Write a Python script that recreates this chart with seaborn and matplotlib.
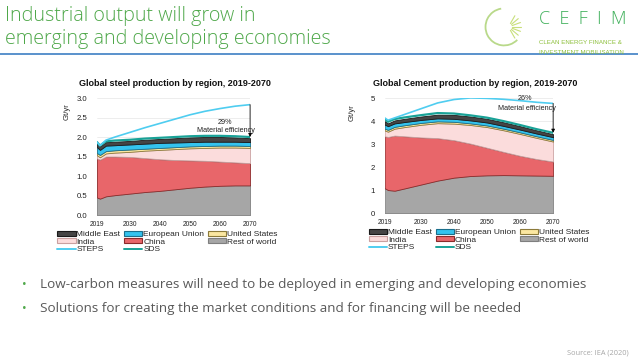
import numpy as np
import pandas as pd
import matplotlib
matplotlib.use("Agg")
import matplotlib.pyplot as plt
import seaborn as sns
from matplotlib.patches import Patch, Arc
from matplotlib.lines import Line2D

# ----------------------------
# DATA (Gt/yr, SDS by region + scenario totals)
# ----------------------------
years = [2019, 2020, 2022, 2025, 2030, 2035, 2040, 2045, 2050, 2055, 2060, 2065, 2070]

steel_rest = [0.45, 0.42, 0.48, 0.51, 0.55, 0.59, 0.62, 0.66, 0.70, 0.73, 0.75, 0.76, 0.76]
steel_china = [1.00, 1.00, 1.02, 0.99, 0.94, 0.87, 0.81, 0.75, 0.70, 0.66, 0.62, 0.59, 0.57]
steel_india = [0.08, 0.06, 0.08, 0.10, 0.13, 0.19, 0.24, 0.28, 0.31, 0.33, 0.36, 0.38, 0.39]
steel_us = [0.06, 0.06, 0.06, 0.06, 0.06, 0.05, 0.05, 0.05, 0.05, 0.05, 0.05, 0.05, 0.05]
steel_eu = [0.15, 0.13, 0.14, 0.13, 0.13, 0.13, 0.13, 0.12, 0.11, 0.11, 0.10, 0.10, 0.10]
steel_me = [0.11, 0.09, 0.09, 0.09, 0.09, 0.10, 0.10, 0.11, 0.12, 0.12, 0.12, 0.11, 0.10]
steel_sds = [1.87, 1.78, 1.89, 1.91, 1.93, 1.96, 1.98, 2.00, 2.02, 2.03, 2.03, 2.02, 2.00]
steel_steps = [1.87, 1.78, 1.92, 2.00, 2.12, 2.24, 2.35, 2.46, 2.57, 2.66, 2.73, 2.79, 2.83]

cement_rest = [1.09, 1.01, 0.98, 1.08, 1.25, 1.42, 1.55, 1.62, 1.65, 1.66, 1.65, 1.64, 1.63]
cement_china = [2.26, 2.31, 2.40, 2.27, 2.05, 1.85, 1.63, 1.41, 1.20, 1.01, 0.85, 0.72, 0.62]
cement_india = [0.25, 0.23, 0.30, 0.40, 0.55, 0.65, 0.72, 0.81, 0.90, 0.94, 0.95, 0.92, 0.87]
cement_us = [0.08, 0.08, 0.08, 0.08, 0.08, 0.08, 0.08, 0.07, 0.07, 0.07, 0.07, 0.07, 0.07]
cement_eu = [0.18, 0.16, 0.15, 0.14, 0.13, 0.13, 0.13, 0.13, 0.13, 0.12, 0.12, 0.12, 0.12]
cement_me = [0.15, 0.12, 0.13, 0.14, 0.15, 0.16, 0.17, 0.17, 0.16, 0.16, 0.15, 0.14, 0.13]
cement_sds = [4.10, 3.98, 4.10, 4.17, 4.27, 4.36, 4.34, 4.26, 4.16, 4.01, 3.84, 3.66, 3.50]
cement_steps = [4.15, 4.05, 4.15, 4.30, 4.55, 4.80, 4.95, 5.02, 5.00, 4.96, 4.90, 4.83, 4.78]

x_ticks = [2019, 2030, 2040, 2050, 2060, 2070]
regions = ["Rest of world", "China", "India", "United States", "European Union", "Middle East"]

# --------------------------
# STYLE
# --------------------------
sns.set_theme(style="white")
plt.rcParams["font.family"] = ["Liberation Sans", "DejaVu Sans"]

fills = {
    "Rest of world": ("#a6a6a6", "#7f7f7f"),
    "China": ("#e8666a", "#8b2a2a"),
    "India": ("#fbdcdc", "#c9a0a0"),
    "United States": ("#fbe7a1", "#8c7a3a"),
    "European Union": ("#34c3ee", "#1b6f8c"),
    "Middle East": ("#454545", "#1a1a1a"),
}
steps_col = "#4fcdf0"
sds_col = "#19a297"
green = "#4fa84a"
grey_txt = "#595959"

fig = plt.figure(figsize=(6.38, 3.59), dpi=100)
fig.patch.set_facecolor("white")


def draw_panel(rect, title, stacks, sds, steps, ymax, yticks, yfmt, pct, txt_y,
               leg_x, title_x):
    ax = fig.add_axes(rect)
    colors = [fills[r][0] for r in regions]
    polys = ax.stackplot(years, *stacks, colors=colors, lw=0.6)
    for p, r in zip(polys, regions):
        p.set_edgecolor(fills[r][1])
    df = pd.DataFrame({"year": years, "SDS": sds, "STEPS": steps})
    sns.lineplot(data=df, x="year", y="SDS", ax=ax, color=sds_col, lw=1.6)
    sns.lineplot(data=df, x="year", y="STEPS", ax=ax, color=steps_col, lw=1.2)
    ax.annotate("", xy=(2070, sds[-1]), xytext=(2070, steps[-1]),
                arrowprops=dict(arrowstyle="-|>", color="black", lw=0.6,
                                mutation_scale=5, shrinkA=0, shrinkB=0))
    ax.text(2061.5, txt_y, pct, ha="center", va="center", fontsize=5.2, color="#222222")
    ax.text(2062, txt_y - (yticks[1] - yticks[0]) * 0.45, "Material efficiency",
            ha="center", va="center", fontsize=5.2, color="#222222")
    ax.set_xlim(2019, 2070)
    ax.set_ylim(0, ymax)
    ax.set_xticks(x_ticks)
    ax.set_yticks(yticks)
    ax.set_yticklabels([yfmt.format(v) for v in yticks])
    ax.tick_params(axis="x", labelsize=4.8, length=0, pad=4, colors="#222222")
    ax.tick_params(axis="y", labelsize=5.6, length=0, pad=7, colors="#222222")
    ax.yaxis.grid(True, color="#e6e6e6", lw=0.5)
    ax.set_axisbelow(True)
    for s in ["top", "right", "left"]:
        ax.spines[s].set_visible(False)
    ax.spines["bottom"].set_color("#8c8c8c")
    ax.spines["bottom"].set_linewidth(0.6)
    ax.set_xlabel("")
    ax.set_ylabel("Gt/yr", fontsize=5.5, color="#222222")
    ax.yaxis.set_label_coords(-0.17, 0.88)
    ax.set_title(title, fontsize=6.5, fontweight="bold", pad=9, color="#111111", x=title_x)

    h = {r: Patch(facecolor=fills[r][0], edgecolor=fills[r][1], lw=0.8) for r in regions}
    h["STEPS"] = Line2D([], [], color=steps_col, lw=1.4)
    h["SDS"] = Line2D([], [], color=sds_col, lw=1.4)
    order = ["Middle East", "India", "STEPS", "European Union", "China", "SDS",
             "United States", "Rest of world"]
    ax.legend([h[k] for k in order], order, ncol=3, loc="upper center",
              bbox_to_anchor=(leg_x, -0.1), frameon=False, fontsize=6.0,
              handlelength=2.2, handleheight=0.55, handletextpad=0.1,
              columnspacing=0.45, labelspacing=0.0, borderpad=0)
    return ax


steel_stack = [steel_rest, steel_china, steel_india, steel_us, steel_eu, steel_me]
cement_stack = [cement_rest, cement_china, cement_india, cement_us, cement_eu, cement_me]

draw_panel([0.152, 0.401, 0.240, 0.326], "Global steel production by region, 2019-2070",
           steel_stack, steel_sds, steel_steps, 3.0, [0.0, 0.5, 1.0, 1.5, 2.0, 2.5, 3.0],
           "{:.1f}", "29%", 2.38, 0.46, 0.51)
draw_panel([0.603, 0.406, 0.264, 0.320], "Global Cement production by region, 2019-2070",
           cement_stack, cement_sds, cement_steps, 5.0, [0, 1, 2, 3, 4, 5],
           "{:.0f}", "26%", 5.0, 0.56, 0.54)

# --------------------------
# SLIDE DECORATION
# --------------------------
slide_font = ["Open Sans", "DejaVu Sans"]
fig.text(0.008, 0.955, "Industrial output will grow in", fontsize=14.2, color=green,
         family=slide_font, fontweight="light", va="center")
fig.text(0.008, 0.890, "emerging and developing economies", fontsize=14.2, color=green,
         family=slide_font, fontweight="light", va="center")
fig.add_artist(Line2D([0, 1], [0.849, 0.849], color="#3d7fc4", lw=1.2,
                      transform=fig.transFigure))

# logo
fig.add_artist(Arc((0.790, 0.925), 0.058, 0.103, theta1=95, theta2=300,
                   color="#b9d98a", lw=1.3, transform=fig.transFigure))
for ang in np.linspace(-60, 60, 7):
    a = np.deg2rad(ang)
    fig.add_artist(Line2D([0.797 + 0.006 * np.cos(a), 0.797 + 0.020 * np.cos(a)],
                          [0.925 + 0.011 * np.sin(a), 0.925 + 0.036 * np.sin(a)],
                          color="#c8df7a", lw=0.8, transform=fig.transFigure))
fig.text(0.845, 0.948, "C  E  F  I  M", fontsize=13, color="#3fb05a",
         family=slide_font, fontweight="light", va="center")
fig.text(0.845, 0.882, "CLEAN ENERGY FINANCE &", fontsize=4.4, color="#8cbf3a",
         family=["Liberation Sans", "DejaVu Sans"], va="center")
fig.text(0.845, 0.853, "INVESTMENT MOBILISATION", fontsize=4.4, color="#8cbf3a",
         family=["Liberation Sans", "DejaVu Sans"], va="center")

bullets = ["Low-carbon measures will need to be deployed in emerging and developing economies",
           "Solutions for creating the market conditions and for financing will be needed"]
for i, b in enumerate(bullets):
    y = 0.207 - i * 0.066
    fig.text(0.034, y, "•", fontsize=9, color=green, family=slide_font, va="center")
    fig.text(0.062, y, b, fontsize=9.7, color=grey_txt, family=slide_font, va="center")

fig.text(0.985, 0.018, "Source: IEA (2020)", fontsize=5.3, color="#a6a6a6",
         family=slide_font, ha="right", va="center")

fig.savefig("out.png", dpi=100, facecolor="white")
